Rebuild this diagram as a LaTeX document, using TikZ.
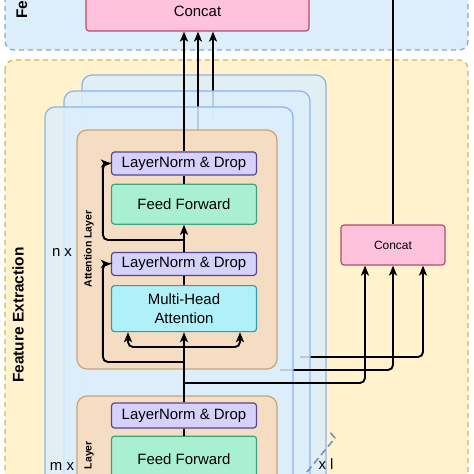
\documentclass[tikz,border=0pt]{standalone}
\usepackage{fontspec}
\setmainfont{Liberation Sans}
\usetikzlibrary{arrows.meta,positioning}
\definecolor{FusionFill}{HTML}{DDEEFB}
\definecolor{FusionLine}{HTML}{7EA6E0}
\definecolor{ExtractFill}{HTML}{FFF2CC}
\definecolor{ExtractLine}{HTML}{D6B656}
\definecolor{PanelFill}{HTML}{DCEEFC}
\definecolor{PanelLine}{HTML}{8FB3E6}
\definecolor{LayerFill}{HTML}{F5DDC3}
\definecolor{LayerLine}{HTML}{C9A477}
\definecolor{NormFill}{HTML}{D5D1FB}
\definecolor{NormLine}{HTML}{54478F}
\definecolor{FwdFill}{HTML}{A9F0D3}
\definecolor{FwdLine}{HTML}{3BA57E}
\definecolor{HeadFill}{HTML}{B0F0F8}
\definecolor{HeadLine}{HTML}{2E9EB1}
\definecolor{CatFill}{HTML}{FFC2DD}
\definecolor{CatLine}{HTML}{B44D6E}
\definecolor{CutLine}{HTML}{6C8EBF}

\begin{document}
\begin{tikzpicture}[
    x=1bp,y=-1bp,
    region/.style={line width=1.2bp,rounded corners=9bp,dash pattern=on 5bp off 4bp},
    panel/.style={draw=PanelLine,fill=PanelFill,fill opacity=0.85,line width=1.2bp,rounded corners=10bp},
    layerbox/.style={draw=LayerLine,fill=LayerFill,line width=1.2bp,rounded corners=10bp},
    block/.style={draw,line width=1.2bp,rounded corners=3bp,minimum width=145bp,align=center,inner sep=0pt,font=\fontsize{15}{19}\selectfont},
    norm/.style={block,draw=NormLine,fill=NormFill,minimum height=23bp},
    fwd/.style={block,draw=FwdLine,fill=FwdFill,minimum height=40bp},
    head/.style={block,draw=HeadLine,fill=HeadFill,minimum height=46bp},
    cat/.style={block,draw=CatLine,fill=CatFill,minimum height=40bp},
    link/.style={line width=1.9bp,black},
    arrow/.style={link,-{Stealth[length=10bp,width=8bp,inset=2.5bp]}},
    tag/.style={inner sep=0pt,font=\fontsize{15}{18}\selectfont},
    sidetag/.style={inner sep=0pt,rotate=90,font=\bfseries\fontsize{10.5}{12}\selectfont},
    regiontag/.style={inner sep=0pt,rotate=90,font=\bfseries\fontsize{15.5}{18}\selectfont}
  ]
    \useasboundingbox (0,0) rectangle (474,474);
    % outer regions
    \draw[region,draw=FusionLine,fill=FusionFill] (5,-30) rectangle (468,50);
    \draw[region,draw=ExtractLine,fill=ExtractFill] (5,60) rectangle (468,520);
    \node[regiontag,anchor=west] (fusiontag) at (22,19) {Fe};
    \node[regiontag] (extracttag) at (18,315) {Feature Extraction};
    \node[cat,minimum width=223bp] (catTop) at (197.5,11) {Concat};
    \node[cat,minimum width=104bp,font=\fontsize{12}{14}\selectfont] (catRight) at (393,245) {Concat};
    \coordinate (outTop) at (393,-20);
    \draw[link] (catRight) -- (outTop);

    % stacked copies
    \draw[panel] (82,75) rectangle (326,520);
    \coordinate (backUp) at (213,120);
    \coordinate (backRight) at (300,357);
    \draw[arrow] (backUp) -- (backUp |- catTop.south);
    \draw[arrow,rounded corners=5bp] (backRight) -| ([xshift=30bp]catRight.south);
    \draw[panel] (64,91) rectangle (310,520);
    \coordinate (midUp) at (198,130);
    \coordinate (midRight) at (280,370);
    \draw[arrow] (midUp) -- (midUp |- catTop.south);
    \draw[arrow,rounded corners=5bp] (midRight) -| (catRight.south);
    \draw[panel] (45,107) rectangle (293,520);

    % front copy
    \draw[layerbox] (77,130) rectangle (277,369);
    \draw[layerbox] (77,396) rectangle (277,520);
    \node[sidetag] (attntag) at (89,249) {Attention Layer};
    \node[sidetag,anchor=east] (lowtag) at (89,441) {Layer};
    \node[tag] (ntag) at (62,252) {n x};
    \node[tag] (mtag) at (62,466) {m x};
    \node[tag,anchor=north] (ltag) at (326,458) {x l};
    \draw[CutLine,line width=1.5bp,dash pattern=on 7bp off 4bp] (307,472) -- (335,438) -- (329,431);

    \node[norm] (norm1) at (184,163.5) {LayerNorm \& Drop};
    \node[fwd,below=8bp of norm1] (fwd1) {Feed Forward};
    \node[norm,below=27bp of fwd1] (norm2) {LayerNorm \& Drop};
    \node[head,below=9bp of norm2] (head) {Multi-Head\\Attention};
    \node[norm,minimum height=25bp] (norm3) at (184,415.5) {LayerNorm \& Drop};
    \node[fwd,minimum height=45bp,below=7bp of norm3] (fwd3) {Feed Forward};

    \coordinate (res1) at (184,240);
    \coordinate (res2) at (184,362);
    \coordinate (fan) at (184,347);
    \coordinate (tapRight) at (184,383);
    \draw[link] (fwd3) -- (norm3);
    \draw[arrow] (norm3) -- (head);
    \draw[link] (head) -- (norm2);
    \draw[arrow] (norm2) -- (fwd1);
    \draw[link] (fwd1) -- (norm1);
    \draw[arrow] (norm1) -- (norm1 |- catTop.south);
    \draw[arrow,rounded corners=5bp] (fan) -| ([xshift=-56bp]head.south);
    \draw[arrow,rounded corners=5bp] (fan) -| ([xshift=56bp]head.south);
    \draw[arrow,rounded corners=5bp] (res1) -| ([xshift=-8bp]norm1.west) -- (norm1.west);
    \draw[arrow,rounded corners=5bp] (res2) -| ([xshift=-8bp]norm2.west) -- (norm2.west);
    \draw[arrow,rounded corners=5bp] (tapRight) -| ([xshift=-28bp]catRight.south);
  \end{tikzpicture}
\end{document}
